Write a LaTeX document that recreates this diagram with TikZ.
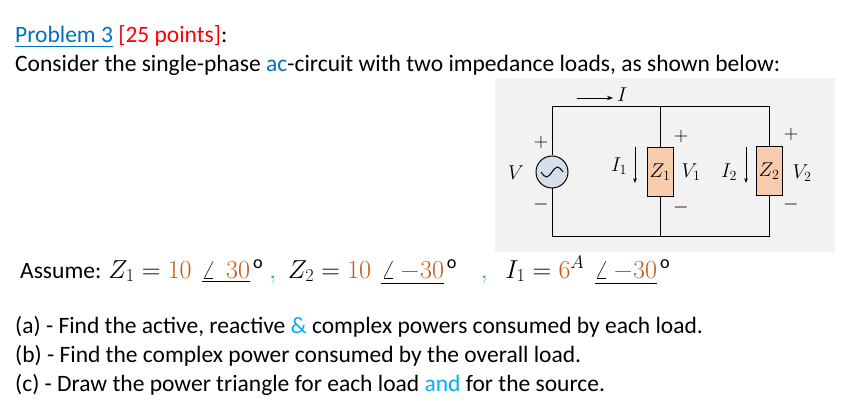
\documentclass[tikz,border=0pt]{standalone}
\usepackage{fix-cm}
\usepackage{amsmath}
\usepackage{fontspec}
\setmainfont{Carlito}
\usetikzlibrary{arrows.meta}
\definecolor{lbl}{RGB}{0,112,192}
\definecolor{sky}{RGB}{0,176,240}
\definecolor{org}{RGB}{197,90,17}
\definecolor{bgc}{RGB}{242,242,242}
\definecolor{zf}{RGB}{248,203,173}
\definecolor{sf}{RGB}{214,222,234}
\newcommand{\angl}[1]{\,\underline{\angle\,\textcolor{org}{#1}}^{\,\mathrm{o}}}
\tikzset{txt/.style={anchor=base west,inner sep=0,font=\fontsize{23.5}{26}\selectfont},
 wire/.style={line width=1pt},
 zbox/.style={draw,line width=1pt,fill=zf,minimum width=26pt,minimum height=49pt,inner sep=0,font=\fontsize{20}{22}\selectfont},
 lab/.style={inner sep=0,font=\fontsize{20}{22}\selectfont}}
\begin{document}
\begin{tikzpicture}[x=1pt,y=-1pt]
\useasboundingbox (0,0) rectangle (855,401);
\fill[bgc] (495,78) rectangle (835,252);
\node[txt] (t1) at (15,43) {\textcolor{lbl}{\underline{Problem 3}} \textcolor{red}{[25 points]}:};
\node[txt] (t2) at (15,72) {Consider the single-phase \textcolor{lbl}{ac}-circuit with two impedance loads, as shown below:};
\node[txt,font=\fontsize{23.5}{26}\selectfont] (t3) at (20,278) {Assume: {\fontsize{26}{28}\selectfont$Z_1=\textcolor{org}{10}\ \angl{\ 30}\ \textcolor{sky}{,}\ \ Z_2=\textcolor{org}{10}\ \angl{-30}\ \ \ \ \textcolor{sky}{,}\ \ \ I_1=\textcolor{org}{6}^{A}\ \angl{-30}$}};
\node[txt] (a) at (15,333) {(a) - Find the active, reactive \textcolor{sky}{\&} complex powers consumed by each load.};
\node[txt] (b) at (15,362) {(b) - Find the complex power consumed by the overall load.};
\node[txt] (c) at (15,391) {(c) - Draw the power triangle for each load \textcolor{sky}{and} for the source.};
% circuit
\coordinate (tl) at (552,107); \coordinate (tm) at (660,107); \coordinate (tr) at (769,107);
\coordinate (bl) at (552,237); \coordinate (bm) at (660,237); \coordinate (br) at (769,237);
\node[circle,draw,line width=1pt,fill=sf,minimum size=32pt,inner sep=0] (src) at (552,172) {};
\draw[line width=1pt] ([xshift=-11pt]src.center) sin ([xshift=-5.5pt,yshift=-5pt]src.center) cos (src.center) sin ([xshift=5.5pt,yshift=5pt]src.center) cos ([xshift=11pt]src.center);
\node[zbox] (z1) at (660,172) {$Z_1$};
\node[zbox] (z2) at (769,171) {$Z_2$};
\draw[wire] (src.north) -- (tl) -- (tr) -- (z2.north);
\draw[wire] (src.south) -- (bl) -- (br) -- (z2.south);
\draw[wire] (tm) -- (z1.north); \draw[wire] (z1.south) -- (bm);
\coordinate (ia) at (577,98); \coordinate (ib) at (613,98);
\draw[-{Stealth[length=6pt]},line width=0.9pt] (ia) -- (ib);
\node[lab,anchor=west] (il) at (617,95) {$I$};
\node[lab] (vl) at (516,173) {$V$};
\node[lab] (sp) at (541,143) {$+$};
\node[lab] (sm) at (541,205) {$-$};
\coordinate (a1) at (635,147); \coordinate (a2) at (635,183);
\draw[-{Stealth[length=5pt]},line width=0.9pt] (a1) -- (a2);
\node[lab] (i1) at (619,166) {$I_1$};
\node[lab] (v1) at (691,172) {$V_1$};
\node[lab] (p1) at (681,137) {$+$};
\node[lab] (m1) at (681,208) {$-$};
\coordinate (a3) at (746,147); \coordinate (a4) at (746,183);
\draw[-{Stealth[length=5pt]},line width=0.9pt] (a3) -- (a4);
\node[lab] (i2) at (729,172) {$I_2$};
\node[lab] (v2) at (802,173) {$V_2$};
\node[lab] (p2) at (791,135) {$+$};
\node[lab] (m2) at (791,205) {$-$};
\end{tikzpicture}
\end{document}
